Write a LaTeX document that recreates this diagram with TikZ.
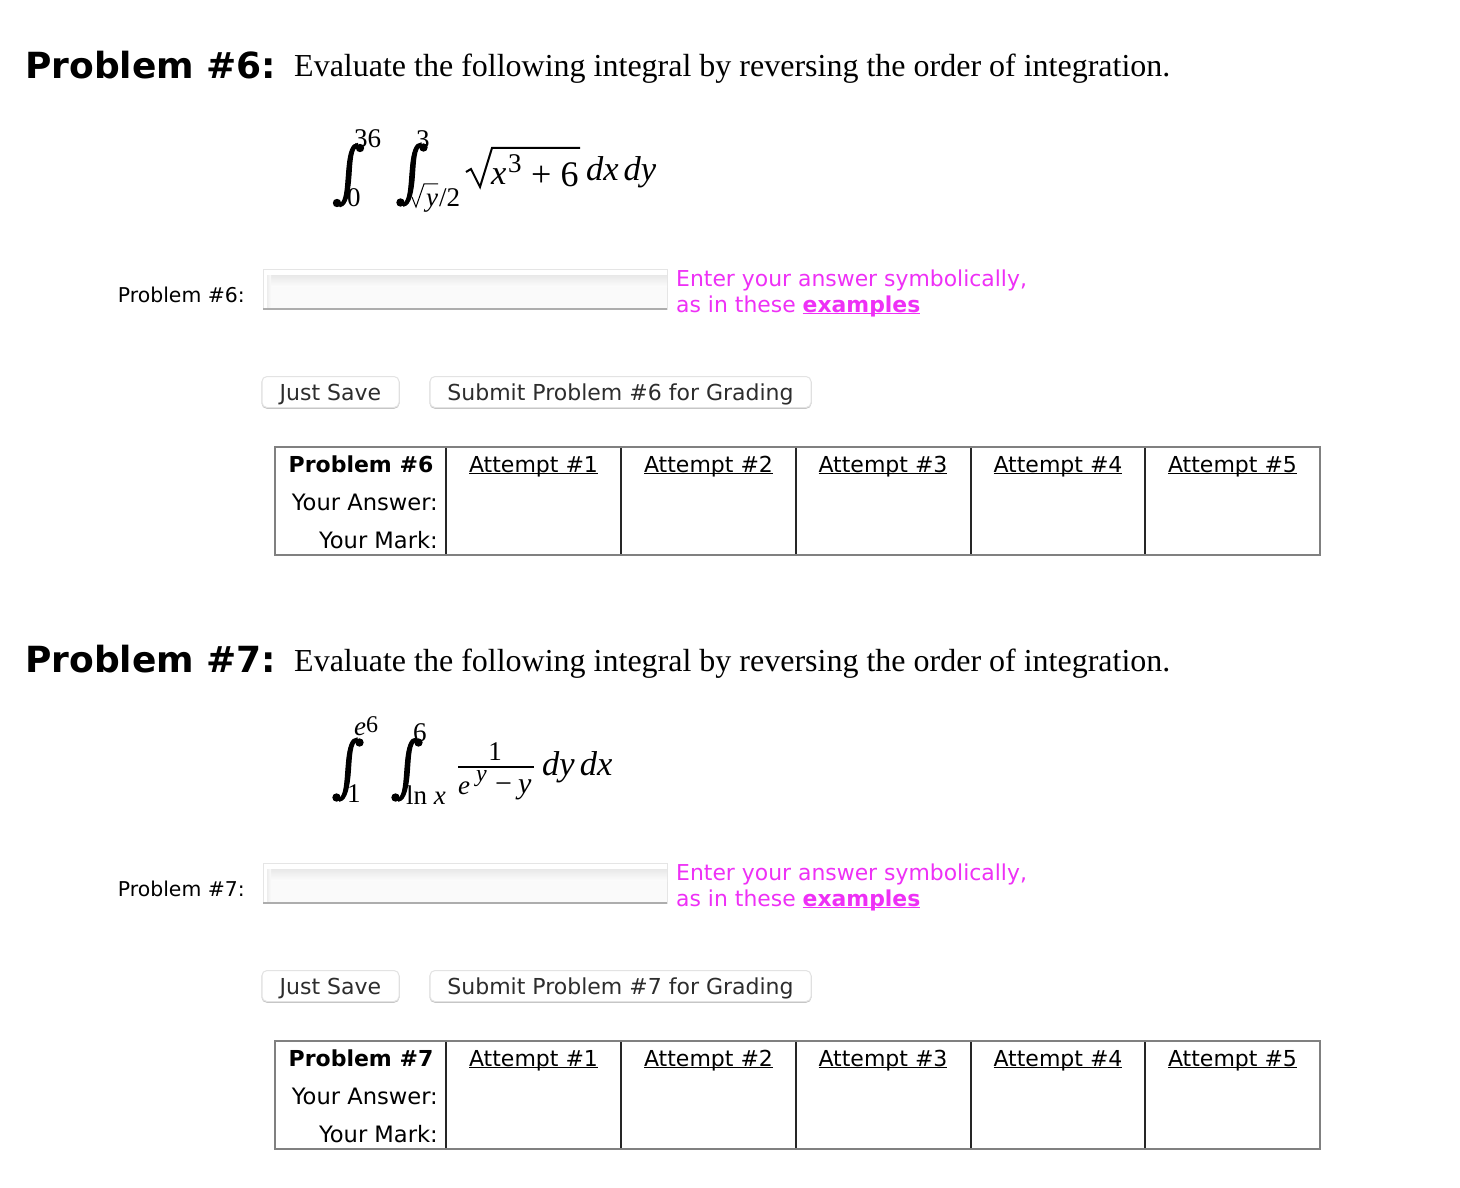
\documentclass[tikz,border=0pt]{standalone}
\usepackage{fontspec}
\setmainfont{Liberation Serif}
\newfontfamily\versans{DejaVu Sans}
\usepackage{tikz}
\usetikzlibrary{positioning}
\definecolor{hintpink}{RGB}{238,48,246}
\definecolor{btntext}{RGB}{45,45,45}
\newcommand{\lowline}[1]{\leavevmode\setbox0\hbox{#1}\rlap{\rule[-2pt]{\wd0}{1.5pt}}\box0}
\tikzset{
  x=1pt,y=-1pt,
  headtxt/.style={inner sep=0pt,anchor=base west,font=\versans\bfseries\fontsize{36}{36}\selectfont},
  bodytxt/.style={inner sep=0pt,anchor=base west,font=\fontsize{32}{36}\selectfont},
  uitxt/.style={inner sep=0pt,font=\versans\fontsize{22}{26}\selectfont},
  rowtxt/.style={uitxt,anchor=base east,font=\versans\fontsize{22.6}{26}\selectfont},
  hinttxt/.style={uitxt,anchor=base west,text=hintpink,font=\versans\fontsize{21.9}{26}\selectfont},
  btn/.style={draw=black!11,line width=1pt,fill=white,rounded corners=5pt,inner sep=0pt,text=btntext,
    preaction={draw=black!24,transform canvas={yshift=-0.8pt}},
    uitxt,minimum height=31pt,text height=16pt,text depth=0pt},
  mathbig/.style={inner sep=0pt,anchor=base west,font=\fontsize{34.5}{36}\selectfont},
  mathsmall/.style={inner sep=0pt,anchor=base west,font=\fontsize{27}{30}\selectfont},
  intglyph/.pic={
    \filldraw[line width=1pt] (9,-32) .. controls (3,-32) and (0,-24) .. (-1.5,-8) .. controls (-3,8) and (-3,22) .. (-7,27)
      -- (-8,31) .. controls (-1,30) and (1.5,15) .. (2.5,0) .. controls (3.5,-15) and (4,-27) .. (9,-29) -- cycle;
    \fill (11.5,-27.5) circle (4.2);
    \fill (-11.5,27.5) circle (4.2);
    \fill (-14,29) -- (-8,31.5) -- (-7,27) -- cycle;
  },
}
\begin{document}
\begin{tikzpicture}
  \useasboundingbox (0,0) rectangle (1460,1188);
  \fill[white] (0,0) rectangle (1460,1188);
  % the parts that both problems share
  \foreach \n/\dy in {6/0,7/594}{
    \begin{scope}[yshift=-\dy pt]
      \node[headtxt] (head\n) at (25,78.5) {Problem \#\n:};
      \node[bodytxt] (task\n) at (294,77) {Evaluate the following integral by reversing the order of integration.};
      \node[uitxt,anchor=base east,font=\versans\fontsize{20.4}{26}\selectfont] (lab\n) at (245,302) {Problem \#\n:};
      % input box
      \draw[black!10,line width=1pt] (263,269) rectangle (667,309);
      \shade[top color=black!9,bottom color=black!1,shading angle=0] (267,275) rectangle (667,287);
      \fill[black!2] (267,287) rectangle (667,308);
      \shade[left color=black!7,right color=black!2] (267,275) rectangle (271,308);
      \draw[black!32,line width=1.2pt] (263,309) -- (667,309);
      \node[hinttxt] (hintA\n) at (676,286) {Enter your answer symbolically,};
      \node[hinttxt] (hintB\n) at (676,312) {as in these \lowline{\textbf{examples}}};
      % buttons
      \node[btn,minimum width=137pt] (save\n) at (330.5,392) {Just Save};
      \node[btn,minimum width=381pt] (submit\n) at (620.5,392) {Submit Problem \#\n\ for Grading};
      % attempts table
      \foreach \xa in {446,621,796,971,1145}
        \draw[black!85,line width=1.6pt] (\xa,447) -- (\xa,555);
      \draw[black!50,line width=2pt] (275,447) rectangle (1320,555);
      \node[uitxt,font=\versans\bfseries\fontsize{22}{26}\selectfont] (probcell\n) at (361,464) {Problem \#\n};
      \node[rowtxt] (ans\n) at (438,510) {Your Answer:};
      \node[rowtxt] (mark\n) at (438,548) {Your Mark:};
      \foreach \k/\xa in {1/533.5,2/708.5,3/883,4/1058,5/1232.5}
        \node[uitxt,anchor=base] (att\n\k) at (\xa,472) {\lowline{Attempt \#\k}};
    \end{scope}
  }
  % first integral
  \pic at (348.5,175.5) {intglyph};
  \pic at (412,175) {intglyph};
  \node[mathsmall] (upA) at (354,148) {36};
  \node[mathsmall] (upB) at (416,149) {3};
  \node[mathsmall] (lowA) at (347,207) {0};
  \node[mathsmall] (lowB) at (426,207) {\textit{y}\hspace{1pt}/2};
  \draw[line width=1pt] (412,197) -- (416,207) -- (424,184) -- (438,184);
  \node[mathbig] (radA) at (491,185) {\textit{x}};
  \node[mathsmall] (expA) at (508,172) {3};
  \node[mathbig,font=\fontsize{36}{36}\selectfont] (radB) at (531,186) {+ 6};
  \draw[line width=2pt] (466,172) -- (471,169) -- (480,187) -- (492,148) -- (580,148);
  \node[mathbig] (dxdyA) at (586,181) {\textit{dx}\hspace{5pt}\textit{dy}};
  % second integral
  \pic at (348,770) {intglyph};
  \pic at (407,770) {intglyph};
  \node[mathsmall] (upC) at (354,735) {\textit{e}};
  \node[mathsmall,font=\fontsize{24}{30}\selectfont] (upCa) at (366,732) {6};
  \node[mathsmall] (upD) at (413,741) {6};
  \node[mathsmall] (lowC) at (347,802) {1};
  \node[mathsmall] (lowD) at (406,804) {ln \textit{x}};
  \node[mathsmall,anchor=base] (numC) at (495,760) {1};
  \draw[line width=2pt] (458,767) -- (534,767);
  \node[mathsmall] (denA) at (458,794) {\textit{e}};
  \node[mathsmall,font=\fontsize{24}{30}\selectfont] (denB) at (476,781) {\textit{y}};
  \node[mathsmall,font=\fontsize{30}{30}\selectfont] (denC) at (495,793) {−\hspace{6pt}\textit{y}};
  \node[mathbig] (dydxC) at (542,775) {\textit{dy}\hspace{5pt}\textit{dx}};
\end{tikzpicture}
\end{document}
